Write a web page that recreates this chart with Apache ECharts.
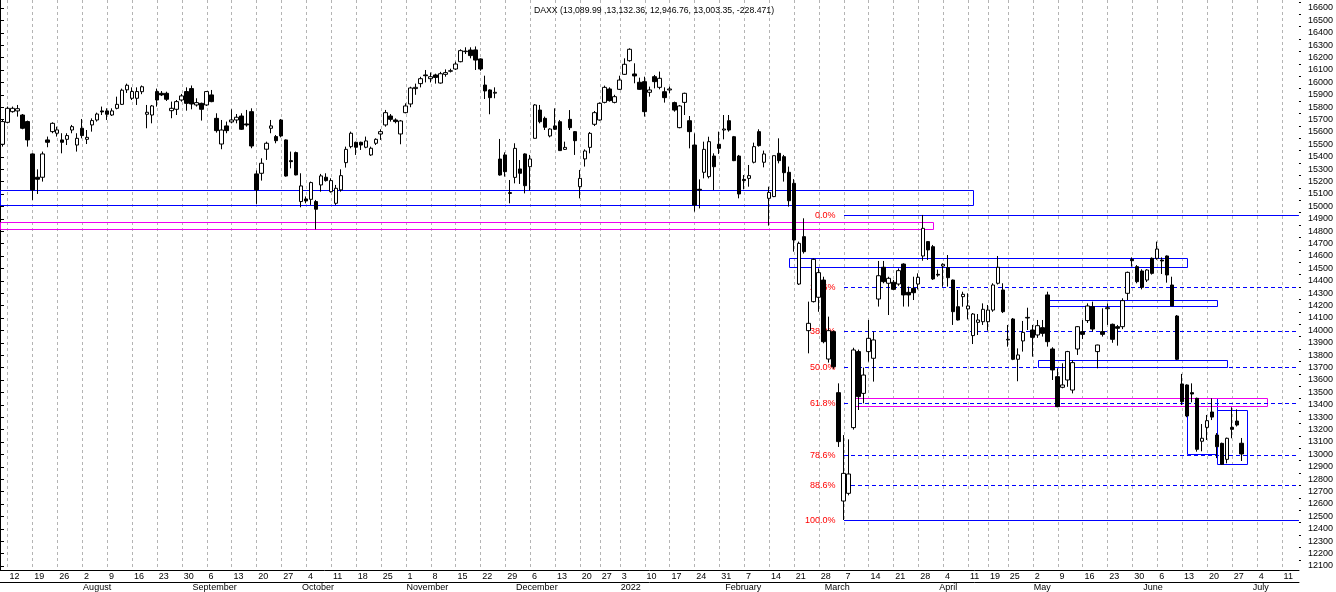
<!DOCTYPE html>
<html>
<head>
<meta charset="utf-8">
<title>DAXX</title>
<script src="https://cdn.jsdelivr.net/npm/echarts@6/dist/echarts.min.js"></script>
<style>
html, body { margin: 0; padding: 0; background: #fff; }
#chart { width: 1336px; height: 592px; }
</style>
</head>
<body>
<div id="chart"></div>
<script>
// daily candles, first one is Fri 9 Jul 2021
const opens = [
  15501, 15678, 15764, 15770, 15737, 15684, 15423, 15235, 15235, 15536,
  15603, 15590, 15536, 15541, 15616, 15495, 15630, 15541, 15657, 15697,
  15770, 15770, 15737, 15791, 15823, 15940, 15872, 15872, 15925, 15743,
  15737, 15926, 15912, 15912, 15772, 15783, 15858, 15926, 15950, 15818,
  15831, 15818, 15899, 15710, 15503, 15649, 15681, 15697, 15729, 15665,
  15764, 15262, 15267, 15461, 15630, 15563, 15697, 15536, 15369, 15434,
  15039, 15060, 15057, 15039, 15173, 15235, 15119, 15025, 15133, 15353,
  15482, 15517, 15517, 15477, 15415, 15509, 15584, 15657, 15729, 15697,
  15584, 15756, 15826, 15950, 15990, 16060, 16030, 16060, 15995, 16065,
  16090, 16108, 16167, 16248, 16261, 16262, 16189, 15979, 15939, 15913,
  15382, 15415, 15111, 15234, 15302, 15423, 15320, 15549, 15777, 15710,
  15568, 15649, 15683, 15460, 15702, 15603, 15159, 15383, 15476, 15662,
  15697, 15839, 15947, 15839, 15944, 16065, 16175, 16068, 16001, 16006,
  15920, 16046, 15960, 15925, 15939, 15837, 15635, 15839, 15691, 15495,
  15138, 15275, 15240, 15406, 15501, 15616, 15691, 15562, 15406, 15218,
  15226, 15356, 15603, 15356, 15065, 15079, 15428, 15401, 15275, 15186,
  14374, 14756, 13998, 14232, 14267, 14406, 13769, 13990, 13498, 12624,
  12686, 13216, 13829, 13492, 13829, 13775, 14253, 14509, 14380, 14388,
  14374, 14535, 14307, 14339, 14374, 14600, 14716, 14675, 14452, 14519,
  14506, 14406, 14191, 14272, 14173, 13958, 14065, 14070, 14070, 14164,
  14380, 14326, 13923, 14092, 13767, 13915, 14100, 14003, 13963, 14022,
  14286, 13850, 13627, 13541, 13600, 13519, 13850, 13990, 14079, 14191,
  13829, 13990, 14175, 14049, 14030, 14030, 14299, 14573, 14514, 14479,
  14406, 14581, 14581, 14567, 14600, 14366, 14116, 13568, 13560, 13498,
  13452, 13106, 13218, 13342, 13156, 13089, 12960, 13218, 13269, 13089.99
];
const highs = [
  15700, 15805, 15805, 15818, 15745, 15692, 15428, 15299, 15442, 15563,
  15678, 15643, 15590, 15590, 15657, 15590, 15705, 15616, 15710, 15756,
  15805, 15791, 15791, 15885, 15950, 15990, 15960, 15960, 15975, 15818,
  15818, 15950, 15930, 15925, 15845, 15858, 15907, 15960, 15975, 15872,
  15837, 15931, 15939, 15751, 15697, 15684, 15783, 15745, 15751, 15778,
  15791, 15290, 15388, 15522, 15697, 15576, 15705, 15540, 15442, 15442,
  15267, 15080, 15200, 15052, 15262, 15267, 15227, 15173, 15299, 15482,
  15603, 15522, 15522, 15563, 15482, 15549, 15622, 15778, 15745, 15710,
  15697, 15831, 15965, 15990, 16045, 16100, 16080, 16070, 16085, 16105,
  16110, 16167, 16267, 16283, 16283, 16290, 16194, 16054, 15944, 15960,
  15544, 15436, 15213, 15509, 15374, 15428, 15415, 15825, 15818, 15724,
  15630, 15791, 15697, 15522, 15777, 15608, 15294, 15460, 15600, 15769,
  15839, 15974, 15960, 15900, 16054, 16194, 16275, 16154, 16038, 16046,
  15966, 16060, 16087, 15960, 15966, 15845, 15818, 15917, 15729, 15589,
  15218, 15522, 15562, 15428, 15603, 15737, 15737, 15568, 15415, 15253,
  15334, 15514, 15622, 15450, 15159, 15409, 15549, 15415, 15321, 15220,
  14716, 14904, 14232, 14580, 14500, 14433, 14111, 14000, 13573, 13156,
  13121, 13860, 13845, 13700, 14084, 13990, 14560, 14560, 14433, 14407,
  14500, 14541, 14353, 14433, 14460, 14931, 14720, 14689, 14490, 14541,
  14608, 14410, 14326, 14312, 14299, 14140, 14132, 14218, 14205, 14380,
  14600, 14380, 14044, 14100, 13855, 14076, 14183, 14044, 14084, 14084,
  14312, 13864, 13694, 13735, 13835, 13760, 14035, 14084, 14218, 14232,
  13885, 14178, 14218, 14055, 14044, 14259, 14474, 14589, 14527, 14493,
  14493, 14589, 14716, 14589, 14605, 14433, 14124, 13649, 13565, 13573,
  13458, 13245, 13318, 13452, 13172, 13095, 13135, 13380, 13363, 13132.36
];
const lows = [
  15482, 15670, 15756, 15724, 15622, 15482, 15052, 15100, 15200, 15477,
  15590, 15563, 15428, 15495, 15590, 15442, 15549, 15503, 15603, 15684,
  15737, 15697, 15729, 15783, 15818, 15915, 15858, 15818, 15905, 15630,
  15670, 15805, 15890, 15850, 15711, 15737, 15845, 15772, 15783, 15805,
  15692, 15810, 15840, 15595, 15461, 15590, 15670, 15670, 15616, 15643,
  15469, 15020, 15208, 15375, 15590, 15509, 15557, 15240, 15307, 15250,
  14993, 15025, 15012, 14815, 15119, 15200, 15111, 15012, 15119, 15313,
  15469, 15415, 15455, 15469, 15407, 15495, 15536, 15643, 15684, 15670,
  15501, 15751, 15800, 15900, 15960, 16000, 16000, 15990, 15990, 16046,
  16080, 16100, 16162, 16229, 16194, 16100, 16094, 15866, 15743, 15872,
  15248, 15240, 15025, 15186, 15181, 15105, 15127, 15549, 15670, 15616,
  15557, 15616, 15450, 15455, 15616, 15415, 15065, 15321, 15428, 15648,
  15691, 15831, 15845, 15831, 15939, 16060, 16167, 15993, 15939, 15724,
  15885, 15952, 15944, 15837, 15912, 15764, 15630, 15737, 15468, 14958,
  14984, 15226, 15226, 15132, 15423, 15541, 15603, 15365, 15065, 15138,
  15159, 15347, 15482, 15315, 14845, 15075, 15347, 15200, 14998, 14635,
  14366, 14620, 13815, 14225, 14150, 13896, 13740, 13690, 13060, 12471,
  12670, 13200, 13358, 13412, 13748, 13587, 14192, 14380, 14124, 14326,
  14360, 14192, 14192, 14245, 14330, 14562, 14568, 14407, 14433, 14352,
  14353, 14044, 14080, 14191, 14089, 13890, 13963, 14044, 13998, 14150,
  14370, 14140, 13869, 13760, 13590, 13829, 14003, 13788, 13940, 13950,
  13869, 13600, 13380, 13533, 13545, 13492, 13802, 13930, 14060, 13990,
  13694, 13950, 14044, 13900, 13877, 14010, 14245, 14514, 14380, 14331,
  14390, 14450, 14570, 14455, 14385, 14197, 13761, 13398, 13300, 13420,
  13022, 13025, 13116, 13277, 12970, 12915, 12928, 13130, 13225, 12946.76
];
const closes = [
  15684, 15791, 15791, 15788, 15630, 15536, 15133, 15219, 15423, 15517,
  15670, 15617, 15517, 15571, 15643, 15549, 15571, 15557, 15692, 15745,
  15762, 15743, 15770, 15823, 15937, 15977, 15926, 15926, 15965, 15759,
  15810, 15858, 15899, 15864, 15791, 15845, 15891, 15831, 15826, 15837,
  15783, 15926, 15845, 15611, 15616, 15611, 15697, 15719, 15622, 15657,
  15487, 15133, 15348, 15509, 15649, 15530, 15568, 15245, 15361, 15254,
  15165, 15044, 15192, 14977, 15246, 15208, 15208, 15146, 15248, 15460,
  15590, 15477, 15495, 15528, 15469, 15541, 15603, 15756, 15702, 15684,
  15689, 15810, 15955, 15960, 16030, 16054, 16046, 16040, 16070, 16079,
  16094, 16148, 16256, 16252, 16216, 16180, 16108, 15931, 15877, 15920,
  15253, 15280, 15105, 15468, 15267, 15167, 15382, 15818, 15683, 15638,
  15624, 15622, 15450, 15476, 15635, 15530, 15226, 15447, 15589, 15756,
  15831, 15960, 15853, 15885, 16019, 16146, 16267, 16052, 15944, 15764,
  15939, 16006, 16033, 15877, 15947, 15777, 15810, 15912, 15603, 15011,
  15132, 15460, 15522, 15320, 15468, 15624, 15616, 15369, 15100, 15208,
  15248, 15482, 15490, 15423, 15113, 15409, 15369, 15272, 15046, 14729,
  14702, 14635, 14057, 14573, 14466, 13909, 13998, 13707, 13103, 12847,
  12842, 13842, 13466, 13640, 13936, 13923, 14441, 14393, 14420, 14331,
  14482, 14286, 14286, 14304, 14428, 14823, 14649, 14415, 14446, 14533,
  14425, 14151, 14084, 14291, 14197, 14132, 14084, 14170, 14164, 14366,
  14509, 14151, 13928, 13767, 13802, 13984, 14105, 13944, 14038, 13976,
  13909, 13681, 13385, 13560, 13829, 13740, 14030, 13968, 14197, 14011,
  13882, 13968, 14183, 13928, 14017, 14240, 14468, 14562, 14393, 14347,
  14487, 14460, 14656, 14560, 14447, 14197, 13767, 13425, 13310, 13487,
  13041, 13130, 13272, 13301, 13062, 12920, 13130, 13202, 13237, 13003.35
];

const titleText = 'DAXX (13,089.99 ,13,132.36, 12,946.76, 13,003.35, -228.471)';

// fibonacci from the 7 Mar low up to the 29 Mar high
const fibHigh = 14931;
const fibLow = 12471;
const fibStart = 169;
const fibRatios = [0, 0.236, 0.382, 0.5, 0.618, 0.786, 0.886, 1];
const fibLabels = ['0.0%', '23.6%', '38.2%', '50.0%', '61.8%', '78.6%', '88.6%', '100.0%'];

// boxes: [from candle, to candle, upper price, lower price]  (-0.5 = left edge)
const blueBoxes = [
  [-0.5, 195, 15132, 15011],
  [158, 238, 14581, 14509],
  [210, 244, 14243, 14194],
  [208, 246, 13759, 13702],
  [238, 244, 13457, 13006],
  [244, 250, 13356, 12920]
];
const magentaBoxes = [
  [-0.5, 187, 14872, 14815],
  [171, 254, 13457, 13393]
];

const holidays = ['2021-12-24', '2021-12-31', '2022-04-15', '2022-04-18'];
const monthNames = ['January', 'February', 'March', 'April', 'May', 'June', 'July',
  'August', 'September', 'October', 'November', 'December'];
const slotCount = 261;
const yMin = 12067.7;
const yMax = 16664.5;

const priceLabels = [];
for (let p = 12100; p <= 16600; p += 100) priceLabels.push(p);
const priceMinor = [];
for (let p = 12150; p <= 16650; p += 100) priceMinor.push(p);

// trading calendar
const dates = [];
let d = new Date(Date.UTC(2021, 6, 9));
while (dates.length < slotCount) {
  const wd = d.getUTCDay();
  const iso = d.toISOString().slice(0, 10);
  if (wd !== 0 && wd !== 6 && holidays.indexOf(iso) < 0) dates.push(new Date(d.getTime()));
  d.setUTCDate(d.getUTCDate() + 1);
}
const cats = dates.map(x => x.toISOString().slice(0, 10));
const weekStart = dates.map((x, i) => i > 0 && x.getUTCDay() <= dates[i - 1].getUTCDay());
const monthStart = dates.map((x, i) => i > 0 && x.getUTCMonth() !== dates[i - 1].getUTCMonth());
const weekIdx = [];
weekStart.forEach((w, i) => { if (w) weekIdx.push([i + 0.5]); });

const font = '"Liberation Sans", Arial, sans-serif';
const candleData = opens.map((o, i) => [o, closes[i], lows[i], highs[i]]);

function boxSeries(list, color) {
  return {
    type: 'custom',
    xAxisIndex: 2,
    yAxisIndex: 0,
    z: 5,
    silent: true,
    data: list.map(b => [b[0] + 0.5, b[1] + 0.5, b[2], b[3]]),
    renderItem: function (params, api) {
      const p0 = api.coord([api.value(0), api.value(2)]);
      const p1 = api.coord([api.value(1), api.value(3)]);
      const x = Math.round(p0[0]) + 0.5;
      const y = Math.round(p0[1]) + 0.5;
      return {
        type: 'rect',
        shape: { x: x, y: y, width: Math.round(p1[0] - p0[0]), height: Math.round(p1[1] - p0[1]) },
        style: { fill: 'none', stroke: color, lineWidth: 1 }
      };
    }
  };
}

var myChart = echarts.init(document.getElementById('chart'));
var option = {
  animation: false,
  backgroundColor: '#fff',
  title: {
    text: titleText,
    left: 529,
    top: 1,
    textStyle: { fontSize: 8.7, fontWeight: 'normal', color: '#000', fontFamily: font }
  },
  grid: { left: 0, top: 0, right: 36, bottom: 22 },
  xAxis: [
    {
      type: 'category',
      data: cats,
      boundaryGap: true,
      axisLine: { lineStyle: { color: '#000', width: 1 } },
      axisTick: {
        alignWithLabel: true,
        interval: (i) => weekStart[i] || monthStart[i],
        length: 11,
        lineStyle: { color: '#000' }
      },
      axisLabel: {
        interval: (i) => weekStart[i],
        formatter: (v) => String(parseInt(v.slice(8), 10)),
        align: 'left',
        margin: 2,
        padding: [0, 0, 0, 2],
        fontSize: 9,
        color: '#000',
        fontFamily: font
      },
      splitLine: { show: false }
    },
    {
      type: 'category',
      data: cats,
      position: 'bottom',
      offset: 12,
      boundaryGap: true,
      axisLine: { lineStyle: { color: '#000', width: 1 } },
      axisTick: {
        alignWithLabel: true,
        interval: (i) => monthStart[i],
        length: 10,
        lineStyle: { color: '#000' }
      },
      axisLabel: {
        interval: (i) => monthStart[i],
        formatter: (v) => {
          const m = parseInt(v.slice(5, 7), 10) - 1;
          return m === 0 ? v.slice(0, 4) : monthNames[m];
        },
        align: 'left',
        margin: 1,
        padding: [0, 0, 0, 1],
        fontSize: 9,
        color: '#000',
        fontFamily: font
      },
      splitLine: { show: false }
    },
    { type: 'value', min: 0, max: slotCount, show: false }
  ],
  yAxis: [
    {
      type: 'value',
      position: 'right',
      min: yMin,
      max: yMax,
      axisLine: { show: true, lineStyle: { color: '#000' } },
      axisTick: { show: true, customValues: priceLabels, length: 4, lineStyle: { color: '#000' } },
      axisLabel: {
        customValues: priceLabels,
        formatter: (v) => String(Math.round(v)),
        margin: 9,
        fontSize: 9,
        color: '#000',
        fontFamily: font
      },
      splitLine: { show: false }
    },
    {
      type: 'value',
      position: 'right',
      min: yMin,
      max: yMax,
      axisLine: { show: false },
      axisTick: { show: true, customValues: priceMinor, length: 2, lineStyle: { color: '#000' } },
      axisLabel: { show: false },
      splitLine: { show: false }
    }
  ],
  series: [
    {
      // weekly dashed grid
      type: 'custom',
      xAxisIndex: 2,
      yAxisIndex: 0,
      z: 1,
      silent: true,
      data: weekIdx,
      renderItem: function (params, api) {
        const x = Math.round(api.coord([api.value(0), yMin])[0]) + 0.5;
        const cs = params.coordSys;
        return {
          type: 'line',
          shape: { x1: x, y1: cs.y, x2: x, y2: cs.y + cs.height },
          style: { stroke: '#b4b4b4', lineWidth: 1, lineDash: [3, 3] }
        };
      }
    },
    boxSeries(blueBoxes, '#0000ff'),
    boxSeries(magentaBoxes, '#ee00ee'),
    {
      type: 'custom',
      xAxisIndex: 2,
      yAxisIndex: 0,
      z: 5,
      silent: true,
      data: fibRatios.map(r => [r]),
      renderItem: function (params, api) {
        const k = params.dataIndex;
        const level = fibHigh - fibRatios[k] * (fibHigh - fibLow);
        const p0 = api.coord([fibStart + 0.5, level]);
        const p1 = api.coord([slotCount, level]);
        const y = Math.round(p0[1]) + 0.5;
        const solid = k === 0 || k === fibRatios.length - 1;
        return {
          type: 'group',
          children: [
            {
              type: 'line',
              shape: { x1: Math.round(p0[0]), y1: y, x2: p1[0], y2: y },
              style: { stroke: '#0000ff', lineWidth: 1, lineDash: solid ? null : [4, 3] }
            },
            {
              type: 'text',
              x: p0[0] - 8,
              y: y,
              style: { text: fibLabels[k], fill: '#ff0000', font: '9px ' + font, align: 'right', verticalAlign: 'middle' }
            }
          ]
        };
      }
    },
    {
      type: 'candlestick',
      xAxisIndex: 0,
      yAxisIndex: 0,
      z: 10,
      barWidth: 4,
      data: candleData,
      itemStyle: {
        color: '#ffffff',
        color0: '#000000',
        borderColor: '#000000',
        borderColor0: '#000000',
        borderColorDoji: '#000000',
        borderWidth: 1
      }
    }
  ]
};
myChart.setOption(option);
window.addEventListener('resize', () => {
  myChart.resize();
});
</script>
</body>
</html>
